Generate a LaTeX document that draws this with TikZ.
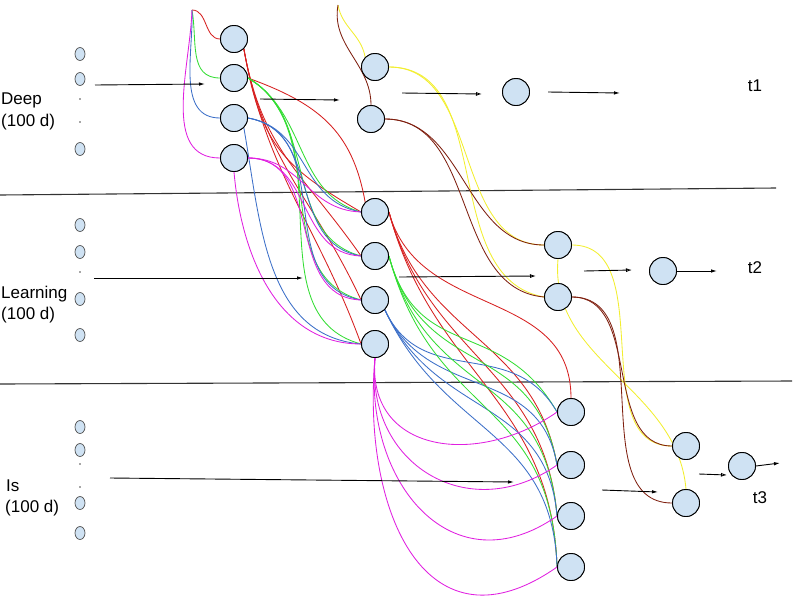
\documentclass[tikz,border=0pt]{standalone}
\usepackage{fontspec}
\setmainfont{Liberation Sans}
\usetikzlibrary{arrows.meta,shapes.geometric}
\definecolor{nfill}{HTML}{CFE2F3}
\definecolor{cred}{HTML}{D62020}
\definecolor{cgreen}{HTML}{33DD33}
\definecolor{cblue}{HTML}{3C6FC8}
\definecolor{cmag}{HTML}{E020E0}
\definecolor{cyel}{HTML}{F2EE30}
\definecolor{cbrown}{HTML}{7F2010}
\begin{document}
\begin{tikzpicture}[x=1pt,y=1pt,
 neuron/.style={circle,draw=black,fill=nfill,minimum size=27pt,inner sep=0pt,line width=0.9pt},
 inp/.style={ellipse,draw=black!70,fill=nfill,minimum width=10pt,minimum height=13pt,inner sep=0pt,line width=0.7pt},
 dotn/.style={circle,fill=black!70,minimum size=1.8pt,inner sep=0pt},
 lab/.style={font=\fontsize{17}{21}\selectfont,inner sep=0pt},
 sep/.style={draw=black!80,line width=1.1pt},
 arr/.style={draw=black,line width=0.9pt,-{Latex[length=6pt,width=3.5pt]}},
 arro/.style={draw=black,line width=0.9pt,-{Latex[open,length=6pt,width=4pt]}},
 wire/.style={line width=0.85pt}]
\useasboundingbox (0,0) rectangle (800,-600);

% separators
\coordinate (s1a) at (0,-195); \coordinate (s1b) at (776,-188);
\coordinate (s2a) at (0,-384); \coordinate (s2b) at (792,-381);
\draw[sep] (s1a) -- (s1b);
\draw[sep] (s2a) -- (s2b);

% labels
\node[lab,anchor=west] (l1a) at (1,-100) {Deep};
\node[lab,anchor=west] (l1b) at (1,-122) {(100 d)};
\node[lab,anchor=west] (l2a) at (1,-294) {Learning};
\node[lab,anchor=west] (l2b) at (1,-315) {(100 d)};
\node[lab,anchor=west] (l3a) at (6,-486) {Is};
\node[lab,anchor=west] (l3b) at (5,-508) {(100 d)};
\node[lab] (t1) at (755,-86) {t1};
\node[lab] (t2) at (755,-268) {t2};
\node[lab] (t3) at (760,-498) {t3};

% input vectors
\node[inp] (i11) at (80,-54) {};
\node[inp] (i12) at (80,-79) {};
\node[dotn] (d11) at (80,-99) {};
\node[dotn] (d12) at (80,-122) {};
\node[inp] (i13) at (80,-149) {};
\node[inp] (i21) at (80,-225) {};
\node[inp] (i22) at (80,-252) {};
\node[dotn] (d21) at (80,-272) {};
\node[inp] (i23) at (80,-299) {};
\node[inp] (i24) at (80,-335) {};
\node[inp] (i31) at (80,-427) {};
\node[inp] (i32) at (80,-450) {};
\node[dotn] (d31) at (80,-464) {};
\node[dotn] (d32) at (80,-487) {};
\node[inp] (i33) at (80,-503) {};
\node[inp] (i34) at (80,-533) {};

% sources of initial curves
\coordinate (P0) at (192,-10);
\coordinate (P1) at (338,-5);

% layers
\node[neuron] (A1) at (234,-39) {};
\node[neuron] (A2) at (234,-78) {};
\node[neuron] (A3) at (234,-118) {};
\node[neuron] (A4) at (234,-158) {};
\node[neuron] (B1) at (375,-67) {};
\node[neuron] (B2) at (371,-119) {};
\node[neuron] (C) at (516,-92) {};
\node[neuron] (D1) at (375,-212) {};
\node[neuron] (D2) at (375,-256) {};
\node[neuron] (D3) at (375,-300) {};
\node[neuron] (D4) at (375,-344) {};
\node[neuron] (E1) at (558,-245) {};
\node[neuron] (E2) at (558,-297) {};
\node[neuron] (F) at (663,-271) {};
\node[neuron] (G1) at (571,-412) {};
\node[neuron] (G2) at (571,-465) {};
\node[neuron] (G3) at (571,-516) {};
\node[neuron] (G4) at (571,-567) {};
\node[neuron] (H1) at (686,-446) {};
\node[neuron] (H2) at (686,-503) {};
\node[neuron] (I) at (742,-466) {};

\begin{scope}[wire]
\draw[cred] (P0) to[out=0,in=180] (A1.west);
\draw[cgreen] (P0) to[out=-80,in=180,looseness=1.1] (A2.west);
\draw[cblue] (P0) to[out=-88,in=180] (A3.west);
\draw[cmag] (P0) to[out=-92,in=180] (A4.west);
\draw[cyel] (P1) to[out=-80,in=100] (B1.north west);
\draw[cbrown] (P1) to[out=-100,in=90] (B2.north);

% Deep -> Learning
\foreach \j/\a/\l in {1/150/1.2,2/125/1.1,3/115/1.05,4/110/1} {
  \draw[cred] (A1.south east) to[out=-80,in=\a,looseness=\l] (D\j.west);
}
\draw[cred] (A2.east) to[out=-20,in=100,looseness=1.1] (D1.north west);
\foreach \j in {1,...,4} {
  \draw[cgreen] (A2.east) to[out=-30,in=165] (D\j.west);
}
\foreach \j in {1,2,3} {
  \draw[cblue] (A3.east) to[out=-10,in=170,looseness=1.1] (D\j.west);
}
\draw[cblue] (A3.south east) to[out=-80,in=175] (D4.west);
\foreach \j in {1,2,3} {
  \draw[cmag] (A4.east) to[out=0,in=178,looseness=1.1] (D\j.west);
}
\draw[cmag] (A4.south) to[out=-85,in=180] (D4.west);

% Learning -> Is
\draw[cred] (D1.east) to[out=-75,in=90,looseness=1.1] (G1.north);
\foreach \k/\a in {2/100,3/95,4/92} {
  \draw[cred] (D1.east) to[out=-75,in=\a,looseness=1.1] (G\k.west);
}
\foreach \k/\a in {1/120,2/100,3/95,4/92} {
  \draw[cgreen] (D2.east) to[out=-75,in=\a,looseness=1.25] (G\k.west);
  \draw[cblue] (D3.south east) to[out=-65,in=\a,looseness=1.15] (G\k.west);
}
\foreach \k/\l in {1/1.3,2/1.3,3/1.35,4/1.45} {
  \draw[cmag] (D4.south) to[out=-95,in=-145,looseness=\l] (G\k.west);
}

% B -> E -> H
\draw[cyel] (B1.east) to[out=0,in=180] (E1.west);
\draw[cyel] (B1.east) to[out=0,in=170] (E2.west);
\draw[cbrown] (B2.east) to[out=0,in=180] (E1.west);
\draw[cbrown] (B2.east) to[out=0,in=175] (E2.west);
\draw[cyel] (E1.east) to[out=0,in=180] (H1.west);
\draw[cyel] (E1.south) to[out=-95,in=95] (H2.north);
\draw[cbrown] (E2.east) to[out=0,in=180] (H1.west);
\draw[cbrown] (E2.east) to[out=0,in=180] (H2.west);
\end{scope}

% redraw nodes on top of wires
\foreach \n in {A1,A2,A3,A4,B1,B2,C,D1,D2,D3,D4,E1,E2,F,G1,G2,G3,G4,H1,H2,I} {
  \node[neuron] at (\n) {};
}

% arrows
\coordinate (a1s) at (95,-85);  \coordinate (a1e) at (205,-84);
\coordinate (a2s) at (260,-99); \coordinate (a2e) at (340,-100);
\coordinate (a3s) at (402,-93); \coordinate (a3e) at (482,-94);
\coordinate (a4s) at (548,-92); \coordinate (a4e) at (620,-93);
\coordinate (b1s) at (94,-278); \coordinate (b1e) at (303,-278);
\coordinate (b2s) at (399,-277); \coordinate (b2e) at (536,-276);
\coordinate (b3s) at (584,-271); \coordinate (b3e) at (632,-270);
\coordinate (b4e) at (717,-271);
\coordinate (c1s) at (110,-478); \coordinate (c1e) at (514,-482);
\coordinate (c2s) at (602,-490); \coordinate (c2e) at (658,-492);
\coordinate (c3s) at (699,-474); \coordinate (c3e) at (727,-475);
\coordinate (c4e) at (780,-463);
\draw[arr] (a1s) -- (a1e);
\draw[arr] (a2s) -- (a2e);
\draw[arro] (a3s) -- (a3e);
\draw[arr] (a4s) -- (a4e);
\draw[arr] (b1s) -- (b1e);
\draw[arro] (b2s) -- (b2e);
\draw[arro] (b3s) -- (b3e);
\draw[arr] (F.east) -- (b4e);
\draw[arr] (c1s) -- (c1e);
\draw[arr] (c2s) -- (c2e);
\draw[arro] (c3s) -- (c3e);
\draw[arr] (I.east) -- (c4e);
\end{tikzpicture}
\end{document}
